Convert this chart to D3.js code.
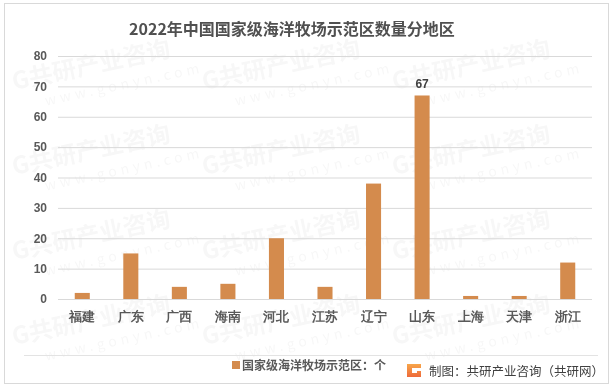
<!DOCTYPE html>
<html>
<head>
<meta charset="utf-8">
<script src="https://cdn.jsdelivr.net/npm/d3@7"></script>
<style>
  body { margin: 0; background: #fff; }
  svg { display: block; font-family: "Noto Sans CJK SC", "Noto Sans", sans-serif; }
</style>
</head>
<body>
<svg id="chart" width="614" height="387"></svg>
<script>
// 数据
const regions = ['福建', '广东', '广西', '海南', '河北', '江苏', '辽宁', '山东', '上海', '天津', '浙江'];
const counts = [2, 15, 4, 5, 20, 4, 38, 67, 1, 1, 12];
const yTicks = [0, 10, 20, 30, 40, 50, 60, 70, 80];
const labelled = ['山东']; // 只标注山东

const title = '2022年中国国家级海洋牧场示范区数量分地区';
const seriesName = '国家级海洋牧场示范区：个';
const source = '制图：共研产业咨询（共研网）';

const svg = d3.select('#chart');
const W = 614, H = 387;
const margin = { top: 56, right: 22, bottom: 88, left: 58 };
const plotW = W - margin.left - margin.right;
const plotH = H - margin.top - margin.bottom;
const barColor = '#d48b4d';
const textColor = '#595959';

// 外框
svg.append('rect')
  .attr('x', 4.5).attr('y', 3.5)
  .attr('width', 604).attr('height', 380)
  .attr('fill', '#fff')
  .attr('stroke', '#d9d9d9');

// 水印
const wm = svg.append('g').attr('opacity', 0.035).attr('fill', '#000');
for (let r = 0; r < 4; r++) {
  for (let c = 0; c < 3; c++) {
    const wx = 14 + c * 190;
    const wy = 90 + r * 85;
    const g = wm.append('g').attr('transform', `translate(${wx},${wy}) rotate(-12)`);
    g.append('text').attr('font-size', 24).attr('font-weight', 700).text('G共研产业咨询');
    g.append('text').attr('x', 28).attr('y', 22).attr('font-size', 14).attr('letter-spacing', 4).text('www.gonyn.com');
  }
}

const x = d3.scaleBand()
  .domain(regions)
  .range([0, plotW])
  .paddingInner(0.69)
  .paddingOuter(0.345);

const y = d3.scaleLinear()
  .domain([0, 80])
  .range([plotH, 0]);

const plot = svg.append('g')
  .attr('transform', `translate(${margin.left},${margin.top})`);

// 网格
plot.append('g')
  .selectAll('line')
  .data(yTicks)
  .enter().append('line')
  .attr('x1', 0).attr('x2', plotW)
  .attr('y1', d => y(d) + 0.5).attr('y2', d => y(d) + 0.5)
  .attr('stroke', '#d9d9d9')
  .attr('stroke-width', 1);

// Y 轴
const yAxis = plot.append('g')
  .attr('transform', 'translate(-11,0)')
  .call(d3.axisLeft(y).tickValues(yTicks).tickSize(0).tickPadding(0));
yAxis.select('.domain').remove();
yAxis.selectAll('text')
  .attr('fill', textColor)
  .attr('font-size', 12)
  .attr('font-weight', 700)
  .attr('font-family', '"Liberation Sans", Arial, sans-serif');

// X 轴
const xAxis = plot.append('g')
  .attr('transform', `translate(0,${plotH})`)
  .call(d3.axisBottom(x).tickSize(0).tickPadding(13));
xAxis.select('.domain').remove();
xAxis.selectAll('text')
  .attr('fill', textColor)
  .attr('font-size', 13)
  .attr('font-weight', 700);

// 柱子
const rows = regions.map((r, i) => ({ region: r, value: counts[i] }));
plot.selectAll('.bar')
  .data(rows)
  .enter().append('rect')
  .attr('class', 'bar')
  .attr('x', d => x(d.region))
  .attr('y', d => y(d.value))
  .attr('width', x.bandwidth())
  .attr('height', d => y(0) - y(d.value))
  .attr('fill', barColor);

// 数据标签
plot.selectAll('.label')
  .data(rows.filter(d => labelled.includes(d.region)))
  .enter().append('text')
  .attr('class', 'label')
  .attr('x', d => x(d.region) + x.bandwidth() / 2)
  .attr('y', d => y(d.value) - 7)
  .attr('text-anchor', 'middle')
  .attr('fill', '#404040')
  .attr('font-size', 12)
  .attr('font-weight', 700)
  .attr('font-family', '"Liberation Sans", Arial, sans-serif')
  .text(d => d.value);

// 标题
svg.append('text')
  .attr('x', 292).attr('y', 35)
  .attr('text-anchor', 'middle')
  .attr('fill', '#505050')
  .attr('font-size', 16)
  .attr('font-weight', 700)
  .text(title);

// 分隔线
svg.append('line')
  .attr('x1', 24).attr('x2', 598)
  .attr('y1', 355.5).attr('y2', 355.5)
  .attr('stroke', '#e3e3e3');

// 图例
svg.append('rect')
  .attr('x', 232).attr('y', 361)
  .attr('width', 8).attr('height', 8)
  .attr('fill', barColor);
svg.append('text')
  .attr('x', 242).attr('y', 370)
  .attr('fill', textColor)
  .attr('font-size', 12)
  .attr('font-weight', 700)
  .text(seriesName);

// 来源 logo
const defs = svg.append('defs');
const grad = defs.append('linearGradient').attr('id', 'logoGrad')
  .attr('x1', 0).attr('y1', 0).attr('x2', 0).attr('y2', 1);
grad.append('stop').attr('offset', 0).attr('stop-color', '#f7a64a');
grad.append('stop').attr('offset', 1).attr('stop-color', '#ee6a3a');
const logo = svg.append('g').attr('transform', 'translate(407,364)');
logo.append('path')
  .attr('d', 'M0,0 H14 V4 H5 V9 H10 V7 H14 V13 H0 Z')
  .attr('fill', 'url(#logoGrad)');

svg.append('text')
  .attr('x', 429).attr('y', 376)
  .attr('fill', '#404040')
  .attr('font-size', 12.5)
  .text(source);
</script>
</body>
</html>
